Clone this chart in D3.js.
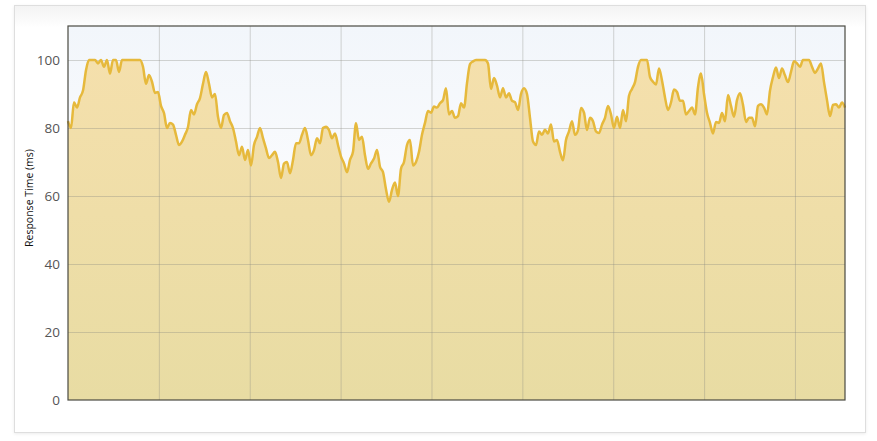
<!DOCTYPE html>
<html>
<head>
<meta charset="utf-8">
<script src="https://cdn.jsdelivr.net/npm/d3@7"></script>
<style>
  body { margin: 0; background: #fff; font-family: "Open Sans", Lato, sans-serif; }
  .card { position: absolute; left: 14px; top: 5px; width: 850px; height: 426px;
          border: 1px solid #dedede; box-shadow: 0 1px 3px rgba(0,0,0,0.08);
          background: linear-gradient(#f3f3f3, #fff 22px); }
</style>
</head>
<body>
<div class="card"></div>
<div id="chart" style="position:absolute;left:0;top:0;"></div>
<script>
// response time samples (ms), evenly spaced in time
var responseMs = [
  82, 80, 87.6, 86, 89, 91, 97, 100, 100, 100,
  99, 100, 98, 100, 96, 100, 100, 96.5, 100, 100,
  100, 100, 100, 100, 100, 98, 93, 95.6, 93.6, 90.3,
  90.6, 86.5, 84.4, 80, 81.5, 81, 78, 75, 76, 78,
  80.3, 85.3, 84, 87, 88.8, 93, 96.5, 93, 89, 90,
  83.3, 80, 83.8, 84.4, 82, 80, 76, 72, 74.5, 70.6,
  73.5, 69, 75, 77.4, 80, 77, 74, 71.2, 72, 73,
  70, 65.3, 69.5, 70, 66.7, 70.6, 75.5, 75.5, 78, 80,
  76.5, 72, 73.5, 77, 75.5, 80, 80.4, 79.4, 77, 78.4,
  75, 71.6, 69.6, 67, 70.6, 73, 81.4, 76.5, 77.4, 72,
  68, 69.6, 71, 73.5, 68.6, 67, 62, 58.3, 61.8, 64,
  60, 68, 70, 75, 76.5, 69, 70, 73, 78, 81.5,
  85, 84.5, 86.3, 86, 87.3, 88.2, 91.7, 84, 85, 83,
  83.5, 87.3, 86, 93.2, 98.8, 99.6, 100, 100, 100, 100,
  99, 91.5, 94.7, 92.5, 89, 91.7, 89, 90.2, 88, 87.6,
  85.3, 90, 91.7, 90, 83, 76, 75, 79, 78, 79.5,
  78.4, 81, 76, 76.5, 73, 70.5, 76.5, 79, 82, 78,
  79.4, 85.9, 84.5, 79.4, 83, 82, 79, 78.5, 81, 83,
  86.5, 84, 80, 83.3, 80, 85.3, 82, 89.5, 91.5, 93.5,
  98, 100, 100, 100, 95, 93.6, 92.8, 97.5, 94, 89,
  85.3, 87.5, 91.3, 90.6, 88, 88, 84, 85, 86, 84,
  92, 96, 90, 84.5, 81.5, 78.4, 81.8, 81.5, 84.4, 82,
  89.7, 86.5, 83.3, 88.2, 90.2, 86.8, 81.8, 83, 83, 80.5,
  86.5, 87, 86, 84, 91, 95, 97.8, 94.7, 97.5, 95.5,
  93.5, 96.5, 99.6, 99, 98, 100, 100, 100, 98, 96.2,
  97.5, 99, 93.5, 88.2, 83.5, 86.8, 87, 86, 87.5, 86
];
var yTicks = [0, 20, 40, 60, 80, 100];
var yTitle = "Response Time (ms)";

var svgWidth = 877, svgHeight = 441;
var margin = { top: 26, right: 32, bottom: 41, left: 68 };
var width = svgWidth - margin.left - margin.right;
var height = svgHeight - margin.top - margin.bottom;

var svg = d3.select("#chart").append("svg")
    .attr("width", svgWidth)
    .attr("height", svgHeight);

var defs = svg.append("defs");
var bg = defs.append("linearGradient").attr("id", "bgGrad")
    .attr("x1", 0).attr("y1", 0).attr("x2", 0).attr("y2", 1);
bg.append("stop").attr("offset", "0%").attr("stop-color", "#f2f6fb");
bg.append("stop").attr("offset", "45%").attr("stop-color", "#fafbfd");
bg.append("stop").attr("offset", "100%").attr("stop-color", "#ffffff");

var fill = defs.append("linearGradient").attr("id", "areaGrad")
    .attr("gradientUnits", "userSpaceOnUse")
    .attr("x1", 0).attr("y1", 0).attr("x2", 0).attr("y2", height);
fill.append("stop").attr("offset", "0%").attr("stop-color", "#f6e0ad");
fill.append("stop").attr("offset", "100%").attr("stop-color", "#e8dca3");

var chartGroup = svg.append("g")
    .attr("transform", `translate(${margin.left}, ${margin.top})`);

var xScale = d3.scaleLinear()
    .domain([0, responseMs.length - 1])
    .range([0, width]);
var yScale = d3.scaleLinear()
    .domain([0, 110])
    .range([height, 0]);

chartGroup.append("rect")
    .attr("width", width).attr("height", height)
    .attr("fill", "url(#bgGrad)");

// area + line
var area = d3.area()
    .x((d, i) => xScale(i))
    .y0(height)
    .y1(d => yScale(d))
    .curve(d3.curveMonotoneX);
var line = d3.line()
    .x((d, i) => xScale(i))
    .y(d => yScale(d))
    .curve(d3.curveMonotoneX);

chartGroup.append("path")
    .datum(responseMs)
    .attr("d", area)
    .attr("fill", "url(#areaGrad)");

// grid lines (drawn over the fill, faint)
var vTicks = d3.range(1, 9).map(k => k * 30.29);
chartGroup.append("g")
    .attr("transform", `translate(0, ${height})`)
    .call(d3.axisBottom(xScale).tickValues(vTicks).tickSize(-height).tickFormat(""))
    .call(g => g.select(".domain").remove())
    .call(g => g.selectAll("line").attr("stroke", "#8a8a80").attr("stroke-opacity", 0.35));

chartGroup.append("g")
    .call(d3.axisLeft(yScale).tickValues(yTicks.slice(1)).tickSize(-width).tickFormat(""))
    .call(g => g.select(".domain").remove())
    .call(g => g.selectAll("line").attr("stroke", "#8a8a80").attr("stroke-opacity", 0.35));

chartGroup.append("path")
    .datum(responseMs)
    .attr("d", line)
    .attr("fill", "none")
    .attr("stroke", "#e6b93c")
    .attr("stroke-width", 2.5)
    .attr("stroke-linejoin", "round");

// y labels
var yAxis = chartGroup.append("g")
    .call(d3.axisLeft(yScale).tickValues(yTicks).tickSize(0).tickPadding(8))
    .call(g => g.select(".domain").remove());
yAxis.selectAll("text")
    .attr("fill", "#555")
    .style("font-family", "'Open Sans', Lato, sans-serif")
    .style("font-size", "13.5px");

// frame
chartGroup.append("rect")
    .attr("width", width).attr("height", height)
    .attr("fill", "none")
    .attr("stroke", "#4a4a42")
    .attr("stroke-width", 1.2);

chartGroup.append("text")
    .attr("transform", "rotate(-90)")
    .attr("x", -(height / 2) + 15)
    .attr("y", -35)
    .attr("text-anchor", "middle")
    .style("font-family", "'Open Sans', sans-serif")
    .style("font-size", "10.5px")
    .attr("fill", "#111")
    .text(yTitle);
</script>
</body>
</html>
